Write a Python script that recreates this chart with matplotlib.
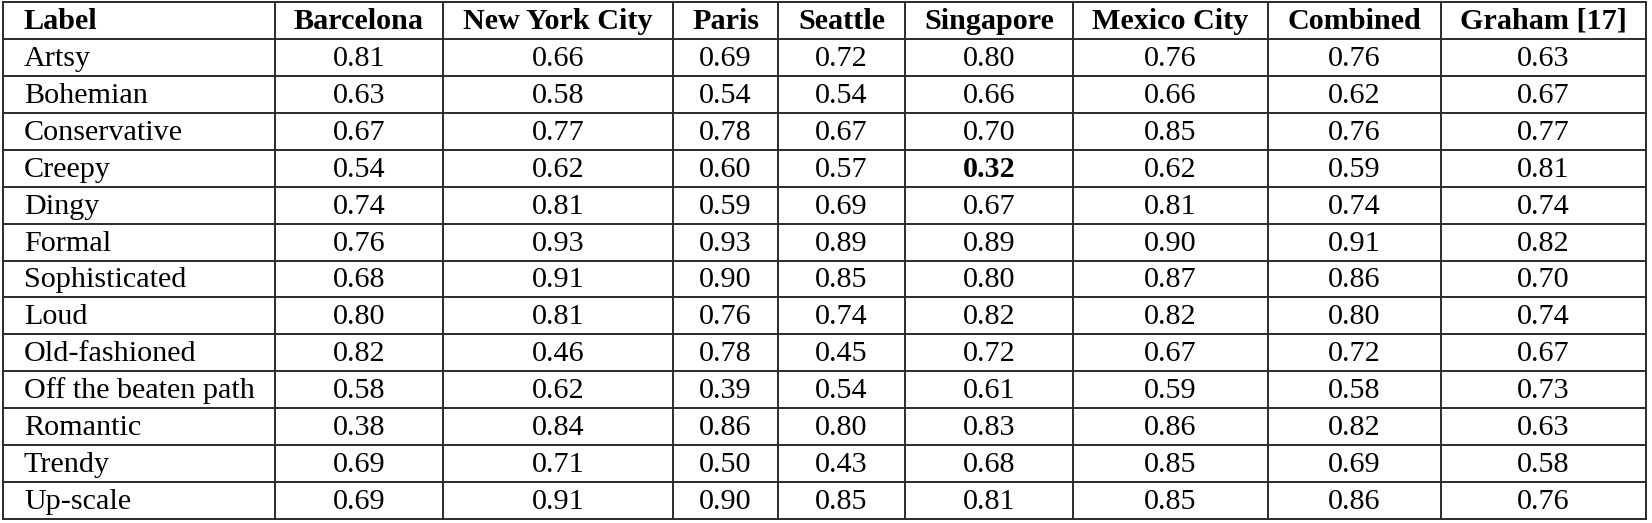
import matplotlib
matplotlib.use("Agg")
import matplotlib.pyplot as plt

# table contents
columns = ["Label", "Barcelona", "New York City", "Paris", "Seattle",
           "Singapore", "Mexico City", "Combined", "Graham [17]"]
labels = ["Artsy", "Bohemian", "Conservative", "Creepy", "Dingy", "Formal",
          "Sophisticated", "Loud", "Old-fashioned", "Off the beaten path",
          "Romantic", "Trendy", "Up-scale"]
barcelona = [0.81, 0.63, 0.67, 0.54, 0.74, 0.76, 0.68, 0.80, 0.82, 0.58, 0.38, 0.69, 0.69]
new_york = [0.66, 0.58, 0.77, 0.62, 0.81, 0.93, 0.91, 0.81, 0.46, 0.62, 0.84, 0.71, 0.91]
paris = [0.69, 0.54, 0.78, 0.60, 0.59, 0.93, 0.90, 0.76, 0.78, 0.39, 0.86, 0.50, 0.90]
seattle = [0.72, 0.54, 0.67, 0.57, 0.69, 0.89, 0.85, 0.74, 0.45, 0.54, 0.80, 0.43, 0.85]
singapore = [0.80, 0.66, 0.70, 0.32, 0.67, 0.89, 0.80, 0.82, 0.72, 0.61, 0.83, 0.68, 0.81]
mexico = [0.76, 0.66, 0.85, 0.62, 0.81, 0.90, 0.87, 0.82, 0.67, 0.59, 0.86, 0.85, 0.85]
combined = [0.76, 0.62, 0.76, 0.59, 0.74, 0.91, 0.86, 0.80, 0.72, 0.58, 0.82, 0.69, 0.86]
graham = [0.63, 0.67, 0.77, 0.81, 0.74, 0.82, 0.70, 0.74, 0.67, 0.73, 0.63, 0.58, 0.76]
# cells printed in bold (column name, row label)
bold_cells = [("Singapore", "Creepy")]

series = [barcelona, new_york, paris, seattle, singapore, mexico, combined, graham]

# layout in pixels
W, H = 1652, 523
col_edges = [3, 275, 443, 673, 778, 905, 1073, 1268, 1441, 1646]
top, bottom = 2, 519
n_rows = len(labels) + 1
row_h = (bottom - top) / n_rows
line_col = "#2b2b2b"
fs = 21.7

fig = plt.figure(figsize=(W / 100, H / 100), dpi=100)
ax = fig.add_axes([0, 0, 1, 1])
ax.set_xlim(0, W)
ax.set_ylim(H, 0)
ax.axis("off")

# grid lines
for x in col_edges:
    ax.plot([x, x], [top, bottom], color=line_col, lw=1.4, solid_capstyle="projecting")
for i in range(n_rows + 1):
    y = top + i * row_h
    ax.plot([col_edges[0], col_edges[-1]], [y, y], color=line_col, lw=1.4,
            solid_capstyle="projecting")

def baseline(r):
    return top + r * row_h + row_h * 0.73

# header
for j, name in enumerate(columns):
    if j == 0:
        ax.text(col_edges[0] + 21, baseline(0), name, ha="left", va="baseline",
                fontsize=fs, fontweight="bold", family="Liberation Serif")
    else:
        cx = (col_edges[j] + col_edges[j + 1]) / 2
        ax.text(cx, baseline(0), name, ha="center", va="baseline",
                fontsize=fs, fontweight="bold", family="Liberation Serif")

# body
for i, lab in enumerate(labels):
    r = i + 1
    ax.text(col_edges[0] + 21, baseline(r), lab, ha="left", va="baseline",
            fontsize=fs, family="Liberation Serif")
    for j, vals in enumerate(series):
        cx = (col_edges[j + 1] + col_edges[j + 2]) / 2
        w = "bold" if (columns[j + 1], lab) in bold_cells else "normal"
        ax.text(cx, baseline(r), f"{vals[i]:.2f}", ha="center", va="baseline",
                fontsize=fs, fontweight=w, family="Liberation Serif")

fig.savefig("out.png", dpi=100, facecolor="white")
